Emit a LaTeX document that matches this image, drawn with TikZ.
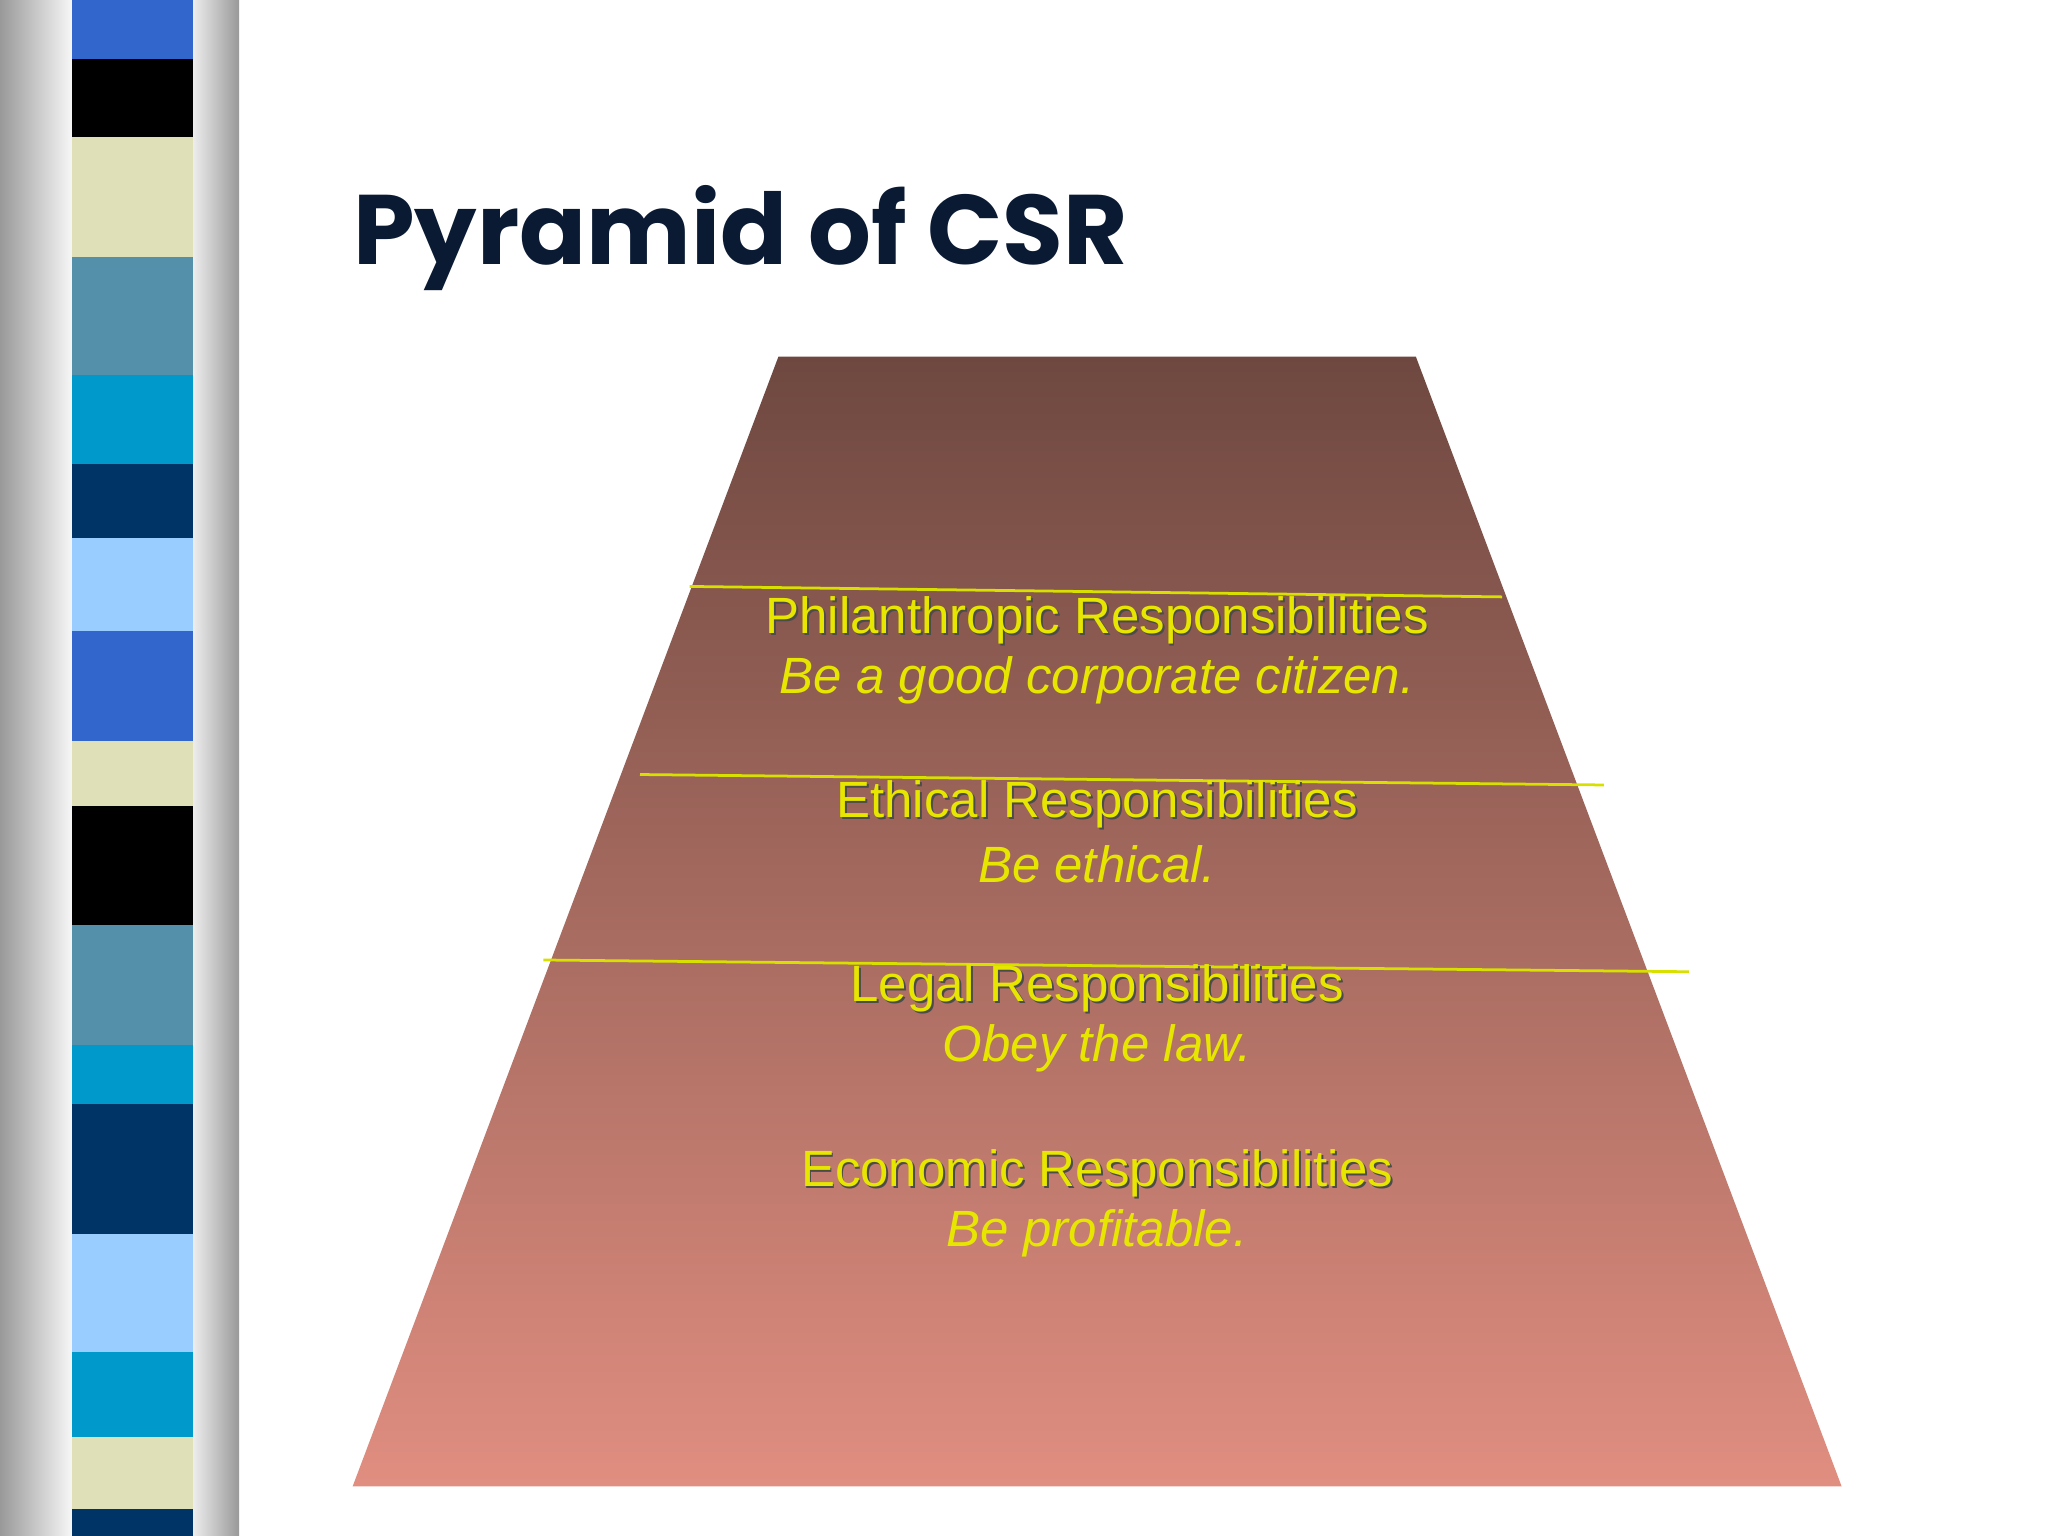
\documentclass[tikz,border=0pt]{standalone}
\usepackage{fontspec}
\setmainfont{Liberation Sans}
\newfontfamily\titlefont{Poppins}
\begin{document}
\begin{tikzpicture}[x=0.01cm,y=-0.01cm]
\definecolor{ylw}{HTML}{E6E600}
\definecolor{lnc}{HTML}{D8E000}
\definecolor{ttl}{HTML}{0A1A33}
\tikzset{lbl/.style={font=\fontsize{11.1}{13}\selectfont,text=ylw},
 sh/.style={font=\fontsize{11.1}{13}\selectfont,text=black!70}}
\useasboundingbox (0,0) rectangle (1568,1176);
\fill[white] (0,0) rectangle (1568,1176);
% side bar
\shade[left color=gray!80, right color=white] (0,0) rectangle (60,1176);
\shade[left color=white, right color=gray!80] (140,0) rectangle (183,1176);
\foreach \a/\b/\c in {0/45/3366CC,45/105/000000,105/197/E0E0B8,197/287/5590AA,287/355/0099CC,355/412/003366,412/483/99CCFF,483/567/3366CC,567/617/E0E0B8,617/708/000000,708/800/5590AA,800/845/0099CC,845/945/003366,945/1035/99CCFF,1035/1100/0099CC,1100/1155/E0E0B8,1155/1176/003366}
 {\definecolor{tmp}{HTML}{\c}\fill[tmp] (55,\a) rectangle (148,\b);}
% title
\node[anchor=west,font=\titlefont\bfseries\fontsize{21.5}{24}\selectfont,text=ttl] (title) at (258,182) {Pyramid of CSR};
% pyramid
\definecolor{ptop}{HTML}{6E4840}\definecolor{pbot}{HTML}{E08E80}
\shade[top color=ptop,bottom color=pbot] (596,273) -- (1084,273) -- (1410,1138) -- (270,1138) -- cycle;
\draw[lnc,line width=0.6pt] (528,449) -- (1150,457);
\draw[lnc,line width=0.6pt] (490,593) -- (1228,601);
\draw[lnc,line width=0.6pt] (416,735) -- (1293,744);
\foreach \t/\y [count=\i] in {Philanthropic Responsibilities/475,Ethical Responsibilities/616,Legal Responsibilities/757,Economic Responsibilities/898}{
 \node[sh] at (841.5,\y+1.5) {\t};
 \node[lbl] (h\i) at (840,\y) {\t};}
\foreach \t/\y [count=\i] in {Be a good corporate citizen./521,Be ethical./662,Obey the law./803,Be profitable./944}
 \node[lbl,font=\itshape\fontsize{11.1}{13}\selectfont] (s\i) at (840,\y) {\t};
\end{tikzpicture}
\end{document}
